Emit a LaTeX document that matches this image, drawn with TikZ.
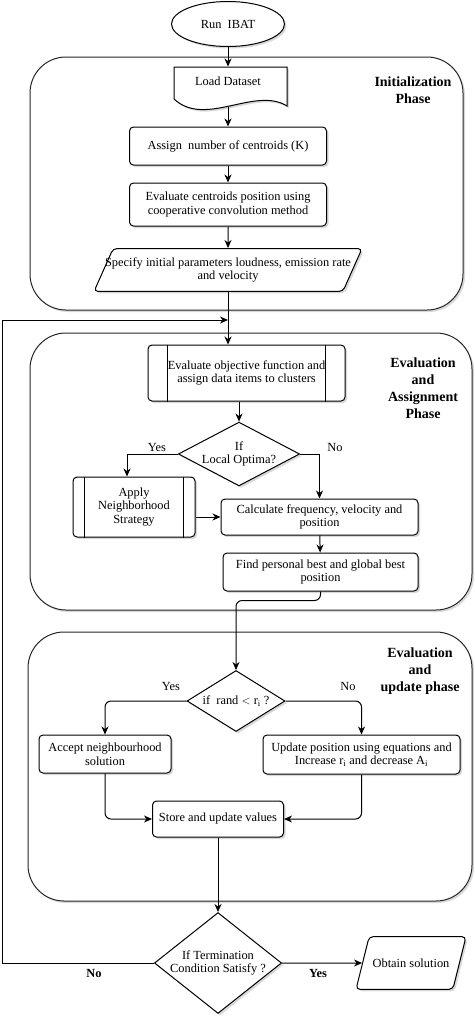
\documentclass[tikz,border=0pt]{standalone}
\usepackage{fontspec}
\setmainfont{Liberation Serif}
\usetikzlibrary{shapes.geometric,shadows,calc,arrows.meta}

\begin{document}
\begin{tikzpicture}[x=1pt,y=-1pt,line width=1pt,font=\fontsize{12.4}{13.5}\selectfont,sh/.style={drop shadow={shadow xshift=2pt,shadow yshift=-2pt,opacity=0.3}},phase/.style={draw=black!85,fill=white,rounded corners=36pt,sh},box/.style={shape=rectangle,draw,fill=white,rounded corners=4pt,align=center,sh},decision/.style={shape=diamond,draw,fill=white,align=center,inner sep=0pt,sh},io/.style={shape=trapezium,trapezium stretches body=true,draw,fill=white,align=center,inner sep=0pt,rounded corners=4pt,sh},phaseT/.style={align=center,font=\fontsize{14}{17}\selectfont\bfseries},lblB/.style={font=\fontsize{12.4}{14}\selectfont\bfseries},arr/.style={-{Stealth[length=8pt,width=7pt,inset=2.5pt]}},arrR/.style={arr,rounded corners=6pt}]
\def\cx{228};
\def\pw{197};

\useasboundingbox (0,0) rectangle (474,1017);

\draw[phase] (30,57) rectangle (463,310);
\draw[phase] (30,333) rectangle (472,610);
\draw[phase] (28,632) rectangle (472,901);

\node[phaseT] (initT) at (413,90.5) {Initialization\\Phase};
\node[phaseT] (assignT) at (423,388.5) {Evaluation\\and\\Assignment\\Phase};
\node[phaseT] (updateT) at (420,671) {Evaluation\\and\\update phase};

\node[ellipse,draw,fill=white,sh,minimum width=113,minimum height=45] (run) at (\cx,24) {Run\ \ IBAT};

\draw[fill=white,sh] (174,67) -- (287,67) -- (287,106) .. controls (255,86) and (205,128) .. (174,99) -- cycle;
\node[minimum width=113,minimum height=39,text height=8.5pt,text depth=10pt] (load) at (\cx,86.5) {Load Dataset};
\draw[arr] (run) -- (load);

\node[box,minimum width=\pw,minimum height=38] (assign) at (\cx,146) {Assign\ \ number of centroids (K)};
\draw[arr] (load.south) -- (assign);

\node[box,minimum width=\pw,minimum height=43] (centr) at (\cx,204.5) {Evaluate centroids position using\\cooperative convolution method};
\draw[arr] (assign) -- (centr);

\node[io,trapezium left angle=66,trapezium right angle=114,inner xsep=-9pt,inner ysep=9pt,minimum width=268] (spec) at (\cx,270) {Specify initial parameters loudness, emission rate\\and velocity};
\draw[arr] (centr) -- (spec);

\node[box,minimum width=\pw,minimum height=56] (evalobj) at (246.5,373) {Evaluate objective function and\\assign data items to clusters};
\draw ($(evalobj.north west)+(20,0)$) -- ($(evalobj.south west)+(20,0)$);
\draw ($(evalobj.north east)+(-20,0)$) -- ($(evalobj.south east)+(-20,0)$);
\coordinate (merge) at (\cx,320);
\draw[arr] (spec.south) -- (spec.south |- evalobj.north);

\node[decision,shape aspect=1.9,minimum width=112,minimum height=62] (lopt) at (239,454) {If\\Local Optima?};
\draw[arr] (lopt |- evalobj.south) -- (lopt.north);

\node[box,minimum width=122,minimum height=60] (apply) at (134,507) {Apply\\Neighborhood\\Strategy};
\draw ($(apply.north west)+(12,0)$) -- ($(apply.south west)+(12,0)$);
\draw ($(apply.north east)+(-12,0)$) -- ($(apply.south east)+(-12,0)$);

\node[box,minimum width=\pw,minimum height=36] (calc) at (319.5,517) {Calculate frequency, velocity and\\position};
\node[box,minimum width=195,minimum height=38] (find) at (320.5,572) {Find personal best and global best\\position};

\draw[arr] (lopt.west) -| ([xshift=-7pt]apply.north);
\node (yes1) at (157,447) {Yes};
\draw[arr] (lopt.east) -| (calc.north);
\node (no1) at (335,447) {No};
\draw[arr] (apply.east |- calc.west) -- (calc.west);
\draw[arr] (calc) -- (find);

\node[decision,shape aspect=1.6,minimum width=98,minimum height=61] (rand) at (236,701) {if\ \ rand $<$ r\textsubscript{i} ?};
\draw[arrR] (find.south) -- ++(0,9) -| (rand.north);

\node[box,minimum width=132,minimum height=38] (accept) at (105,754) {Accept neighbourhood\\solution};
\node[box,minimum width=\pw,minimum height=39] (update) at (361.5,754.5) {Update position using equations and\\Increase r\textsubscript{i} and decrease A\textsubscript{i}};
\draw[arrR] (rand.west) -| (accept.north);
\node (yes2) at (171,686) {Yes};
\draw[arrR] (rand.east) -| (update.north);
\node (no2) at (348,686) {No};

\node[box,minimum width=131,minimum height=36] (store) at (218,819) {Store and update values};
\draw[arrR] (accept.south) |- (store.west);
\draw[arrR] (update.south) |- (store.east);

\node[decision,shape aspect=1.26,minimum width=125,minimum height=99] (term) at (218,963) {If Termination\\Condition Satisfy ?};
\draw[arr] (store) -- (term);

\node[io,trapezium left angle=76,trapezium right angle=104,inner xsep=2pt,inner ysep=22pt,minimum width=110] (obtain) at (411,963) {Obtain solution};
\draw[arr] (term.east) -- (obtain.west);
\node[lblB] (yes3) at (318,973) {Yes};

\coordinate (loop) at (2.5,320);
\draw[arr] (term.west) -| (loop) -- (merge);
\node[lblB] (no3) at (94,973) {No};
\end{tikzpicture}
\end{document}
